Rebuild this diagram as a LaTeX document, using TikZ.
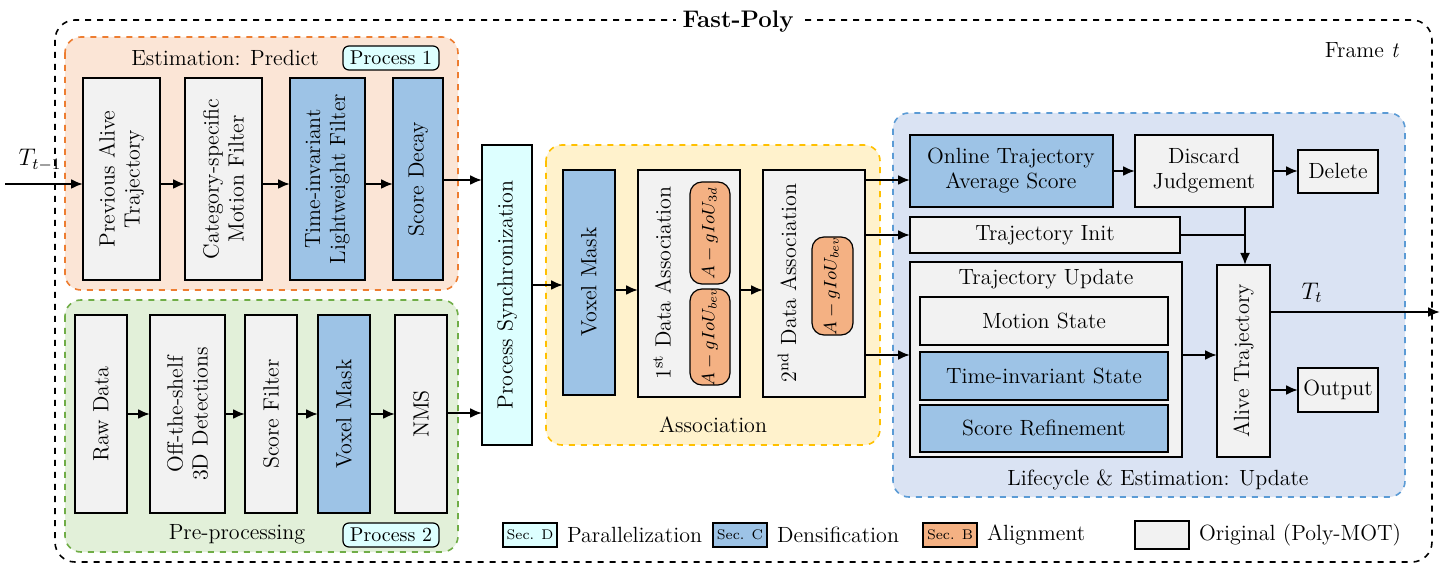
\documentclass[tikz,border=0pt]{standalone}
\usetikzlibrary{arrows.meta}
\definecolor{bgray}{RGB}{242,242,242}
\definecolor{bblue}{RGB}{157,195,230}
\definecolor{bcyan}{RGB}{221,255,255}
\definecolor{borg}{RGB}{244,177,131}
\definecolor{gorgf}{RGB}{251,229,214}\definecolor{gorgd}{RGB}{237,125,49}
\definecolor{ggrnf}{RGB}{226,240,217}\definecolor{ggrnd}{RGB}{112,173,71}
\definecolor{gyelf}{RGB}{255,242,204}\definecolor{gyeld}{RGB}{255,192,0}
\definecolor{gbluf}{RGB}{218,227,243}\definecolor{gblud}{RGB}{91,155,213}
\begin{document}
\begin{tikzpicture}[x=0.5pt,y=-0.5pt,font=\rmfamily\fontsize{11}{12.5}\selectfont,
 box/.style={draw,line width=0.6pt,fill=bgray},
 grp/.style={dashed,line width=0.8pt,rounded corners=8pt},
 arr/.style={-{Latex[length=6pt,width=5pt]},line width=1.1pt},
 proc/.style={box,fill=bcyan,rounded corners=3pt,minimum width=48pt,minimum height=12pt,inner sep=0pt,font=\rmfamily\fontsize{10}{11}\selectfont},
 leg/.style={box,minimum width=27pt,minimum height=12pt,inner sep=0pt,font=\rmfamily\fontsize{7}{8}\selectfont},
 vt/.style={rotate=90,align=center}]
\useasboundingbox (0,0) rectangle (1451,566);
\draw[grp,black,rounded corners=10pt] (55,20) rectangle (1432,562);
\node[fill=white,font=\rmfamily\fontsize{12}{13}\selectfont\bfseries] (title) at (738,22) {Fast-Poly};
\node (frame) at (1362,50) {Frame \textit{t}};
% orange
\draw[grp,draw=gorgd,fill=gorgf] (65,37) rectangle (458,290);
\node (ep) at (225,58) {Estimation: Predict};
\node[proc] (p1) at (391,58) {Process 1};
\draw[box] (83,78) rectangle (160,280); \node[vt,text width=95pt] (pat) at (121.5,179) {Previous Alive Trajectory};
\draw[box] (185,78) rectangle (262,280); \node[vt,text width=95pt] (csm) at (223.5,179) {Category-specific Motion Filter};
\draw[box,fill=bblue] (290,78) rectangle (365,280); \node[vt,text width=95pt] (til) at (327.5,179) {Time-invariant Lightweight Filter};
\draw[box,fill=bblue] (393,78) rectangle (443,280); \node[vt] (sd) at (418,179) {Score Decay};
\coordinate (tin) at (5,184);
\draw[arr] (tin) -- (83,184);
\node (tl) at (40,160) {\large $T_{t-1}$};
\draw[arr] (160,184) -- (185,184);
\draw[arr] (262,184) -- (290,184);
\draw[arr] (365,184) -- (393,184);
% green
\draw[grp,draw=ggrnd,fill=ggrnf] (65,300) rectangle (458,552);
\draw[box] (75,315) rectangle (127,513); \node[vt] (rd) at (101,414) {Raw Data};
\draw[box] (150,315) rectangle (225,513); \node[vt,text width=95pt] (od) at (187.5,414) {Off-the-shelf 3D Detections};
\draw[box] (245,315) rectangle (297,513); \node[vt] (sf) at (271,414) {Score Filter};
\draw[box,fill=bblue] (318,315) rectangle (370,513); \node[vt] (vm1) at (344,414) {Voxel Mask};
\draw[box] (395,315) rectangle (447,513); \node[vt] (nms) at (421,414) {NMS};
\draw[arr] (127,414) -- (150,414);
\draw[arr] (225,414) -- (245,414);
\draw[arr] (297,414) -- (318,414);
\draw[arr] (370,414) -- (395,414);
\node (pp) at (237,534) {Pre-processing};
\node[proc] (p2) at (391,535) {Process 2};
% sync
\draw[box,fill=bcyan] (482,145) rectangle (532,445); \node[vt] (ps) at (507,295) {Process Synchronization};
\draw[arr] (443,180) -- (482,180);
\draw[arr] (447,413) -- (482,413);
% yellow
\draw[grp,draw=gyeld,fill=gyelf] (546,145) rectangle (880,445);
\draw[box,fill=bblue] (563,170) rectangle (615,395); \node[vt] (vm2) at (589,282) {Voxel Mask};
\draw[box] (638,170) rectangle (740,397); \node[vt] (da1) at (662,283) {1\textsuperscript{st} Data Association};
\draw[box,fill=borg,rounded corners=6pt] (690,182) rectangle (730,284); \node[vt] (g3) at (710,233) {\small $A-gIoU_{3d}$};
\draw[box,fill=borg,rounded corners=6pt] (690,289) rectangle (730,385); \node[vt] (gb1) at (710,337) {\small $A-gIoU_{bev}$};
\draw[box] (763,170) rectangle (865,397); \node[vt] (da2) at (787,283) {2\textsuperscript{nd} Data Association};
\draw[box,fill=borg,rounded corners=6pt] (812,237) rectangle (853,335); \node[vt] (gb2) at (832,286) {\small $A-gIoU_{bev}$};
\node (as) at (713,425) {Association};
\draw[arr] (532,285) -- (563,285);
\draw[arr] (615,290) -- (638,290);
\draw[arr] (740,290) -- (763,290);
% blue group
\draw[grp,draw=gblud,fill=gbluf] (893,113) rectangle (1405,497);
\draw[box,fill=bblue] (910,135) rectangle (1113,207); \node[align=center] (ots) at (1011,171) {Online Trajectory\\Average Score};
\draw[box] (1135,135) rectangle (1273,207); \node[align=center] (dj) at (1204,171) {Discard\\Judgement};
\draw[box] (1298,150) rectangle (1378,193); \node (del) at (1338,171) {Delete};
\draw[box] (910,217) rectangle (1180,253); \node (ti) at (1045,235) {Trajectory Init};
\draw[box] (910,262) rectangle (1182,457); \node (tu) at (1046,279) {Trajectory Update};
\draw[box] (920,297) rectangle (1168,345); \node (ms) at (1044,321) {Motion State};
\draw[box,fill=bblue] (920,352) rectangle (1168,400); \node (tis) at (1044,376) {Time-invariant State};
\draw[box,fill=bblue] (920,405) rectangle (1168,452); \node (sr) at (1044,428) {Score Refinement};
\draw[box] (1217,265) rectangle (1270,457); \node[vt] (at) at (1243.5,361) {Alive Trajectory};
\draw[box] (1298,368) rectangle (1378,412); \node (out) at (1338,390) {Output};
\node (lc) at (1158,480) {Lifecycle \& Estimation: Update};
\draw[arr] (865,180) -- (910,180);
\draw[arr] (865,235) -- (910,235);
\draw[arr] (865,355) -- (910,355);
\draw[arr] (1113,171) -- (1135,171);
\draw[arr] (1273,171) -- (1298,171);
\draw[arr] (1245,207) -- (1245,265);
\draw[line width=1.1pt] (1180,235) -- (1245,235);
\draw[arr] (1182,355) -- (1217,355);
\draw[arr] (1270,390) -- (1298,390);
\coordinate (tout) at (1440,312);
\draw[arr] (1270,312) -- (tout);
\node (tt) at (1312,293) {\large $T_t$};
% legend
\node[leg,fill=bcyan] (ld) at (530,535) {Sec. D};
\node[anchor=west] (ldt) at (560,535) {Parallelization};
\node[leg,fill=bblue] (lc2) at (740,535) {Sec. C};
\node[anchor=west] (lct) at (770,535) {Densification};
\node[leg,fill=borg] (lb) at (950,535) {Sec. B};
\node[anchor=west] (lbt) at (980,535) {Alignment};
\node[box,minimum width=27pt,minimum height=14pt,inner sep=0pt] (lo) at (1162,535) {};
\node[anchor=west] (lot) at (1192,535) {Original (Poly-MOT)};
\end{tikzpicture}
\end{document}
